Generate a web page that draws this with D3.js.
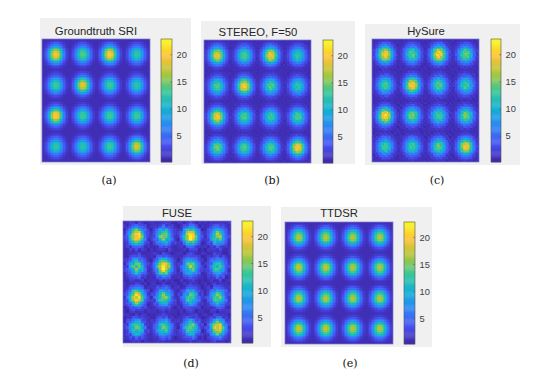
<!DOCTYPE html>
<html>
<head>
<meta charset="utf-8">
<script src="https://cdn.jsdelivr.net/npm/d3@7"></script>
<style>
html, body { margin: 0; padding: 0; background: #fff; }
svg { display: block; }
</style>
</head>
<body>
<div id="chart"></div>
<script>
// Panel text
var titles = ["Groundtruth SRI", "STEREO, F=50", "HySure", "FUSE", "TTDSR"];
var captions = ["(a)", "(b)", "(c)", "(d)", "(e)"];
var tickValues = [5, 10, 15, 20];

// Peak value of each of the 16 blobs (row by row)
var peaksSRI = [20, 14.5, 20.5, 13, 13.5, 19, 13.5, 12.5, 20.5, 13.5, 13.5, 13.5, 13, 12.5, 13.5, 18.5];
var peaksStereo = [19, 14, 19.5, 12.5, 14, 20, 14, 12.5, 19.5, 14, 13, 14, 15, 14, 14, 20];
var peaksHySure = [20, 14, 20.5, 15, 13.5, 20, 14, 13, 20.5, 15, 13.5, 15, 13.5, 13.5, 14.5, 19.5];
var peaksFuse = [21, 15, 21.5, 15, 15, 21.5, 15, 13, 21, 15, 13.5, 14.5, 14, 14, 14.5, 19.5];
var peaksTTDSR = [17, 17, 17, 17, 17.5, 17.5, 17, 17, 17, 17, 17, 17, 17.5, 17.5, 17, 17];

// Estimated falloff of a blob: share of the peak at a distance in tile half-widths.
// The image cells are built from this plus the peaks, not read one by one.
var blobRadius = [0, 0.2, 0.4, 0.6, 0.8, 1, 1.2, 1.5];
var blobShare = [1, 0.91, 0.62, 0.3, 0.1, 0.015, 0, 0];
var background = 0.7;

// Hand written texture standing in for the speckle of the noisy panels,
// the real pixels are too fine to read. Its amount is set per panel below.
var speckle = [
  [ 3,-5, 1, 7,-2,-8, 4, 0,-6, 2, 8,-3,-1],
  [-7, 2, 6,-4, 9,-1,-5, 3, 7,-8, 1, 5,-2],
  [ 4, 8,-3, 0,-6, 5, 2,-9, 1, 6,-4,-7, 3],
  [-1,-6, 9, 2, 4,-7, 8,-2,-5, 3, 0, 7,-4],
  [ 6, 1,-8, 5,-3, 2,-4, 7, 9,-1,-6, 2, 8],
  [-5, 7, 3,-9, 1, 6, 0,-3, 4,-7, 5,-2, 1],
  [ 2,-4, 5, 8,-7,-1, 9, 3,-8, 0, 6, 4,-6],
  [ 8, 0,-2,-5, 6, 3,-6, 1, 5,-4,-9, 7, 2],
  [-3, 9, 4, 1,-8, 7, 2,-5, 0, 8,-1,-6, 5],
  [ 5,-7, 0, 6, 3,-4,-2, 8,-1, 4, 7,-3,-9],
  [-8, 3, 7,-1, 5, 0,-9, 6, 2,-5, 3, 1, 4],
  [ 1, 6,-5, 4,-2, 8, 3,-7, 6,-3, 9,-4, 0],
  [ 7,-2, 2,-6, 0, 4, 5,-1,-4, 9,-7, 3, 6]
];
var noiseAmount = [0, 1.1, 1.8, 3.2, 0];
var noiseBlock = [1, 1, 1, 2, 1];
var noiseOffset = [0, 0, 5, 8, 0];

// Colour map stops
var mapStops = [0.2, 3.43, 6.66, 9.89, 13.11, 16.34, 19.57, 22.8];
var mapColors = ["#3e26a8", "#4752f4", "#2d87f7", "#12b1d6", "#37c897", "#abc739", "#fec338", "#f9fb14"];

var allPeaks = [peaksSRI, peaksStereo, peaksHySure, peaksFuse, peaksTTDSR];

// Layout of each panel: grey figure area, image, colour bar
var boxes = [
  {bg: [40, 18, 191, 165], img: [42, 39, 150, 162], bar: [161, 172], tx: 96, ty: 35, cx: 109, cy: 184},
  {bg: [201, 21, 355, 164], img: [204, 40, 311, 163], bar: [323, 333], tx: 258, ty: 36, cx: 272, cy: 184},
  {bg: [365, 24, 520, 165], img: [372, 39, 479, 162], bar: [491, 501], tx: 426, ty: 35, cx: 437, cy: 184},
  {bg: [123, 206, 271, 347], img: [123, 221, 231, 343], bar: [242, 253], tx: 177, ty: 217, cx: 191, cy: 367},
  {bg: [281, 207, 432, 347], img: [285, 222, 393, 344], bar: [404, 415], tx: 339, ty: 217, cx: 350, cy: 367}
];

var nCells = 72;
var nTile = nCells / 4;

var svg = d3.select("#chart").append("svg").attr("width", 554).attr("height", 385);

var color = d3.scaleLinear().domain(mapStops).range(mapColors).clamp(true);
var share = d3.scaleLinear().domain(blobRadius).range(blobShare).clamp(true);

//Blurs the image a bit, the reference is a soft jpeg
var defs = svg.append("defs");
defs.append("filter").attr("id", "soft")
  .attr("x", "-5%").attr("y", "-5%").attr("width", "110%").attr("height", "110%")
  .append("feGaussianBlur").attr("stdDeviation", 0.6);

//Value of one image cell
function cellValue(p, r, c) {
  var row = Math.floor(r / nTile), col = Math.floor(c / nTile);
  var dy = (r + 0.5 - (row + 0.5) * nTile) / (nTile / 2);
  var dx = (c + 0.5 - (col + 0.5) * nTile) / (nTile / 2);
  var s = share(Math.sqrt(dx * dx + dy * dy));
  var v = background + (allPeaks[p][row * 4 + col] - background) * s;
  if (noiseAmount[p] > 0) {
    var b = noiseBlock[p], n = speckle.length, o = noiseOffset[p];
    var rb = Math.floor(r / b), cb = Math.floor(c / b);
    var noise = (speckle[(rb + o) % n][(cb + row * 3) % n] + speckle[(cb + 2) % n][(rb + col * 5 + o) % n]) / 18;
    v += noise * noiseAmount[p] * (0.35 + s);
  }
  return Math.max(0.3, v);
}

boxes.forEach(function(box, p) {
  var g = svg.append("g");

  //grey figure area
  g.append("rect")
    .attr("x", box.bg[0]).attr("y", box.bg[1])
    .attr("width", box.bg[2] - box.bg[0]).attr("height", box.bg[3] - box.bg[1])
    .attr("fill", "#f0f0f0");

  //title
  g.append("text")
    .attr("x", box.tx).attr("y", box.ty)
    .attr("text-anchor", "middle")
    .attr("font-family", "Liberation Sans")
    .attr("font-size", "11.3px")
    .attr("fill", "#262626")
    .text(titles[p]);

  //image cells
  var cols = d3.scaleBand().domain(d3.range(nCells)).range([box.img[0], box.img[2]]);
  var rows = d3.scaleBand().domain(d3.range(nCells)).range([box.img[1], box.img[3]]);
  var cells = d3.cross(d3.range(nCells), d3.range(nCells));

  defs.append("clipPath").attr("id", "clip" + p).append("rect")
    .attr("x", box.img[0]).attr("y", box.img[1])
    .attr("width", box.img[2] - box.img[0]).attr("height", box.img[3] - box.img[1]);

  g.append("g").attr("clip-path", "url(#clip" + p + ")")
    .append("g").attr("filter", "url(#soft)")
    .attr("shape-rendering", "crispEdges")
    .selectAll("rect")
    .data(cells)
    .enter().append("rect")
    .attr("x", function(d) { return cols(d[1]); })
    .attr("y", function(d) { return rows(d[0]); })
    .attr("width", cols.bandwidth() + 0.5)
    .attr("height", rows.bandwidth() + 0.5)
    .attr("fill", function(d) { return color(cellValue(p, d[0], d[1])); });

  g.append("rect")
    .attr("x", box.img[0]).attr("y", box.img[1])
    .attr("width", box.img[2] - box.img[0]).attr("height", box.img[3] - box.img[1])
    .attr("fill", "none").attr("stroke", "#7c78cc").attr("stroke-width", 0.7);

  //colour bar
  var y = d3.scaleLinear().domain([0.2, 22.8]).range([box.img[3], box.img[1]]);
  var levels = d3.range(0.2, 22.8, 0.2);
  g.append("g").selectAll("rect")
    .data(levels)
    .enter().append("rect")
    .attr("x", box.bar[0])
    .attr("y", function(d) { return y(d + 0.2) ; })
    .attr("width", box.bar[1] - box.bar[0])
    .attr("height", function(d) { return y(d) - y(d + 0.2) + 0.3; })
    .attr("fill", function(d) { return color(d); });

  g.append("rect")
    .attr("x", box.bar[0]).attr("y", box.img[1])
    .attr("width", box.bar[1] - box.bar[0]).attr("height", box.img[3] - box.img[1])
    .attr("fill", "none").attr("stroke", "#555").attr("stroke-width", 0.6);

  var yAxis = d3.axisRight(y).tickValues(tickValues).tickSize(-2).tickPadding(4.5);
  var axisG = g.append("g")
    .attr("transform", "translate(" + box.bar[1] + ",0)")
    .attr("class", "axis")
    .call(yAxis);
  axisG.select(".domain").remove();
  axisG.selectAll("line").attr("stroke", "#555").attr("stroke-width", 0.5);
  axisG.selectAll("text")
    .attr("font-family", "Liberation Sans")
    .attr("font-size", "9.3px")
    .attr("fill", "#404040");

  //caption under the panel
  g.append("text")
    .attr("x", box.cx).attr("y", box.cy)
    .attr("text-anchor", "middle")
    .attr("font-family", "DejaVu Serif")
    .attr("font-size", "11px")
    .attr("fill", "#111")
    .text(captions[p]);
});
</script>
</body>
</html>
